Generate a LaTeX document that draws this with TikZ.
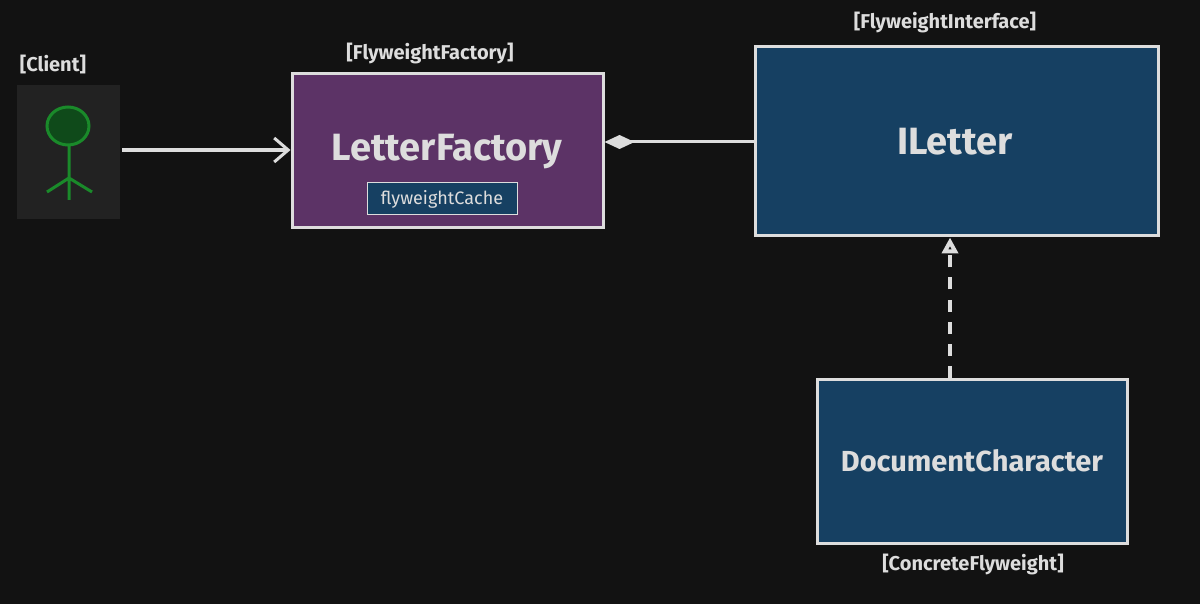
\documentclass[tikz,border=0pt]{standalone}
\usepackage{fontspec}
\setmainfont{Fira Sans}
\usetikzlibrary{arrows.meta}
\definecolor{bg}{HTML}{121212}
\definecolor{fg}{HTML}{DDDDDD}
\definecolor{purp}{HTML}{5C3366}
\definecolor{navy}{HTML}{164062}
\definecolor{cli}{HTML}{222222}
\definecolor{gdark}{HTML}{0F4A1A}
\definecolor{gline}{HTML}{1A8A2A}
\begin{document}
\begin{tikzpicture}[x=1pt,y=-1pt,
  box/.style={draw=fg,line width=3pt,inner sep=0pt},
  lbl/.style={text=fg,font=\fontsize{20}{22}\selectfont\bfseries},
  title/.style={text=fg,font=\fontsize{38}{40}\selectfont\bfseries},
  conn/.style={draw=fg,line width=4pt}]
\fill[bg] (0,0) rectangle (1200,604);
\useasboundingbox (0,0) rectangle (1200,604);
\node[fill=cli,minimum width=103pt,minimum height=134pt,inner sep=0pt] (client) at (68.5,152) {};
\node[lbl] (clientl) at (53,65) {[Client]};
\draw[gline,line width=3pt,fill=gdark] (68,126) ellipse [x radius=21,y radius=19];
\draw[gline,line width=3pt] (69,145) -- (69,200) (69,178) -- (47,192) (69,178) -- (92,192);
\node[box,fill=purp,minimum width=311pt,minimum height=154pt] (lf) at (447.5,151) {};
\node[title] at (447,152) {LetterFactory};
\node[draw=fg,line width=1pt,fill=navy,minimum width=150pt,minimum height=32pt,text=fg,font=\fontsize{18}{20}\selectfont] (cache) at (442,199) {flyweightCache};
\node[lbl] (lfl) at (430,53) {[FlyweightFactory]};
\node[box,fill=navy,minimum width=403pt,minimum height=189pt] (il) at (956.5,141.5) {};
\node[title] at (955,142) {ILetter};
\node[lbl] (ill) at (945,22) {[FlyweightInterface]};
\node[box,fill=navy,minimum width=310pt,minimum height=164pt] (dc) at (972,461) {};
\node[text=fg,font=\fontsize{29}{32}\selectfont\bfseries] at (972,461) {DocumentCharacter};
\node[lbl] (dcl) at (973,564) {[ConcreteFlyweight]};
\coordinate (cs) at (122,150);
\draw[conn,-{Straight Barb[length=14pt,width=24pt,line width=3pt]}] (cs) -- (lf.west |- cs);
\draw[conn,line width=3pt,{Diamond[length=30pt,width=14pt,fill=fg]}-] (lf.east |- 0,142) -- (il.west |- 0,142);
\draw[conn,dash pattern=on 12pt off 10pt,-{Triangle[open,length=16pt,width=16pt,line width=4pt]}] (dc.north -| 950,0) -- (il.south -| 950,0);
\end{tikzpicture}
\end{document}
